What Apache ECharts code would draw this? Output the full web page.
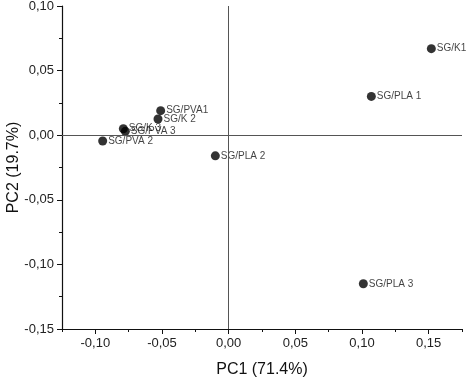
<!DOCTYPE html>
<html><head><meta charset="utf-8">
<script src="https://cdn.jsdelivr.net/npm/echarts@6/dist/echarts.min.js"></script>
<style>html,body{margin:0;padding:0;background:#fff}#c{width:474px;height:379px}</style>
</head><body><div id="c"></div>
<script>
const names = ['SG/K1','SG/PLA 1','SG/PLA 2','SG/PLA 3','SG/PVA1','SG/K 2','SG/K 3','SG/PVA 3','SG/PVA 2'];
const pc1 = [0.152, 0.107, -0.010, 0.101, -0.051, -0.053, -0.079, -0.0775, -0.0945];
const pc2 = [0.067, 0.030, -0.016, -0.115, 0.019, 0.0125, 0.005, 0.003, -0.0045];
const xMajor = [-0.10, -0.05, 0, 0.05, 0.10, 0.15];
const xMinor = [-0.125, -0.075, -0.025, 0.025, 0.075, 0.125, 0.175];
const yMajor = [-0.15, -0.10, -0.05, 0, 0.05, 0.10];
const yMinor = [-0.125, -0.075, -0.025, 0.025, 0.075];

const font = 'Liberation Sans, Arial, sans-serif';
const fmt = v => (Math.abs(v) < 1e-9 ? 0 : v).toFixed(2).replace('.', ',');
const data = names.map((n, i) => [pc1[i], pc2[i], n]);

const chart = echarts.init(document.getElementById('c'));
chart.setOption({
  animation: false,
  grid: {left: 62, right: 12, top: 6, bottom: 50, containLabel: false, outerBoundsMode: 'none'},
  xAxis: [{
    type: 'value', min: -0.125, max: 0.175,
    name: 'PC1 (71.4%)', nameLocation: 'middle', nameGap: 33, nameMoveOverlap: false,
    nameTextStyle: {fontFamily: font, fontSize: 16, color: '#111'},
    axisLine: {onZero: false, lineStyle: {color: '#111', width: 1.2}},
    axisTick: {customValues: xMajor, length: 5, lineStyle: {color: '#111'}},
    axisLabel: {customValues: xMajor, formatter: fmt, fontFamily: font, fontSize: 13, color: '#222', margin: 8},
    splitLine: {show: false}
  }, {
    type: 'value', min: -0.125, max: 0.175, position: 'bottom',
    axisLine: {show: false, onZero: false},
    axisTick: {customValues: xMinor, length: 3, lineStyle: {color: '#111'}},
    axisLabel: {show: false},
    splitLine: {show: false}
  }],
  yAxis: [{
    type: 'value', min: -0.15, max: 0.10,
    name: 'PC2 (19.7%)', nameLocation: 'middle', nameGap: 40, nameMoveOverlap: false,
    nameTextStyle: {fontFamily: font, fontSize: 16, color: '#111'},
    axisLine: {onZero: false, lineStyle: {color: '#111', width: 1.2}},
    axisTick: {customValues: yMajor, length: 5, lineStyle: {color: '#111'}},
    axisLabel: {customValues: yMajor, formatter: fmt, fontFamily: font, fontSize: 13, color: '#222', margin: 8},
    splitLine: {show: false}
  }, {
    type: 'value', min: -0.15, max: 0.10, position: 'left',
    axisLine: {show: false, onZero: false},
    axisTick: {customValues: yMinor, length: 3, lineStyle: {color: '#111'}},
    axisLabel: {show: false},
    splitLine: {show: false}
  }],
  series: [{
    type: 'scatter', xAxisIndex: 0, yAxisIndex: 0,
    data: data, symbolSize: 9,
    itemStyle: {color: '#000'},
    label: {show: true, position: 'right', distance: 1, formatter: p => p.data[2],
            fontFamily: font, fontSize: 10, color: '#111'},
    markLine: {
      silent: true, symbol: 'none', label: {show: false},
      lineStyle: {color: '#555', width: 1, type: 'solid'},
      data: [{xAxis: 0}, {yAxis: 0}]
    }
  }]
});
</script></body></html>
